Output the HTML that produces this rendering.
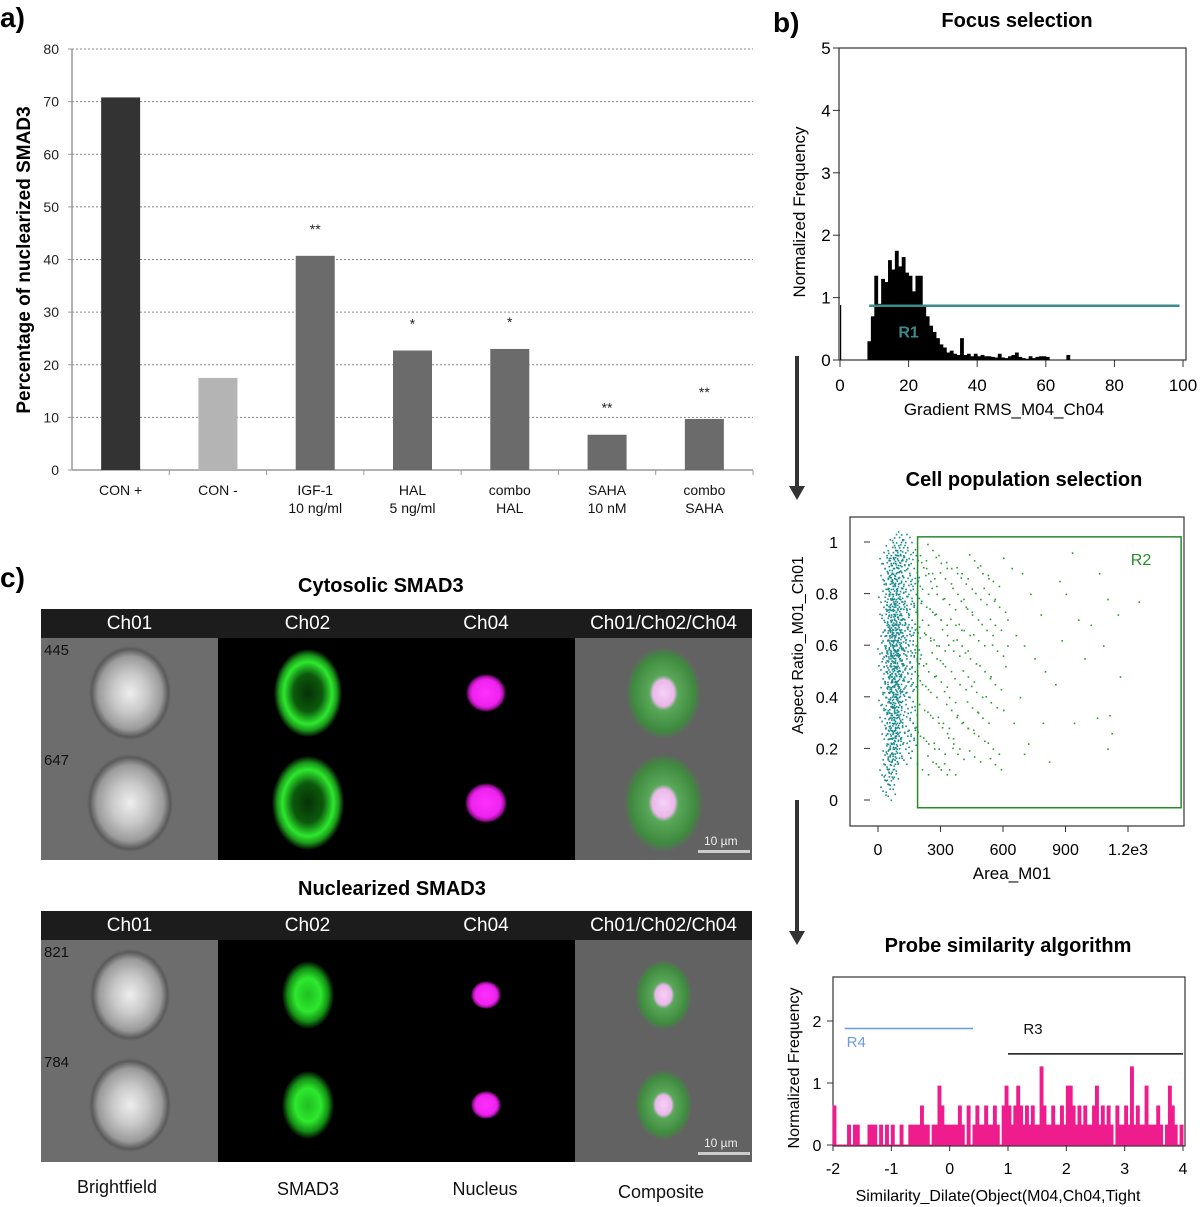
<!DOCTYPE html>
<html><head><meta charset="utf-8">
<style>
body{margin:0;background:#fff;width:1200px;height:1207px;overflow:hidden;position:relative;font-family:"Liberation Sans",Arial,sans-serif}
.abs{position:absolute}
.hdr{position:absolute;background:#1c1c1c;color:#fff;font-size:19px;text-align:center;line-height:29px;height:29px}
.cell{position:absolute;border-radius:50%}
.lbl{position:absolute;font-size:15px;color:#111}
.cap{position:absolute;font-size:18px;color:#111;text-align:center;width:178px}
</style></head>
<body>
<svg class="abs" style="left:0;top:0" width="1200" height="1207" id="svg" font-family="Liberation Sans, Arial, sans-serif"></svg>

<!-- panel c -->
<div class="abs" style="left:0px;top:562px;font-size:28px;font-weight:bold">c)</div>
<div class="abs" style="left:298px;top:575px;font-size:20px;font-weight:bold">Cytosolic SMAD3</div>
<div class="abs" style="left:298px;top:878px;font-size:20px;font-weight:bold">Nuclearized SMAD3</div>

<div id="imgs"></div>

<div class="cap" style="left:28px;top:1177px">Brightfield</div>
<div class="cap" style="left:219px;top:1179px">SMAD3</div>
<div class="cap" style="left:396px;top:1179px">Nucleus</div>
<div class="cap" style="left:572px;top:1182px">Composite</div>

<script>
const NS='http://www.w3.org/2000/svg';
const svg=document.getElementById('svg');
function mk(tag,attrs,parent){const e=document.createElementNS(NS,tag);for(const k in attrs)e.setAttribute(k,attrs[k]);(parent||svg).appendChild(e);return e;}
function txt(x,y,s,attrs){const e=mk('text',Object.assign({x:x,y:y},attrs||{}));e.textContent=s;return e;}

/* ---------- Panel a data ---------- */
const barCategories=[["CON +"],["CON -"],["IGF-1","10 ng/ml"],["HAL","5 ng/ml"],["combo","HAL"],["SAHA","10 nM"],["combo","SAHA"]];
const barValues=[70.8,17.5,40.7,22.7,23.0,6.7,9.7];
const barSignif=["","","**","*","*","**","**"];
const barColors=["#333333","#b4b4b4","#6b6b6b","#6b6b6b","#6b6b6b","#6b6b6b","#6b6b6b"];
const barTicks=[0,10,20,30,40,50,60,70,80];

/* ---------- Panel b focus histogram (bin width 1, from 0) ---------- */
const focusBins=[0.88,0,0,0,0,0,0,0,0.3,0.7,1.35,0.9,1.3,1.25,1.6,1.45,1.75,1.5,1.65,1.4,1.35,1.1,1.35,1.35,0.85,0.7,0.55,0.45,0.35,0.25,0.2,0.12,0.15,0.1,0.08,0.35,0.08,0.1,0.06,0.1,0.06,0.08,0.06,0.06,0.05,0.04,0.1,0.04,0.03,0.06,0.08,0.12,0.05,0.03,0.02,0.06,0.03,0.05,0.06,0.06,0.05,0,0,0,0,0,0.08];
const focusTicksX=[0,20,40,60,80,100];
const focusTicksY=[0,1,2,3,4,5];
const r1Level=0.87, r1From=8.5, r1To=99;

/* ---------- Scatter ---------- */
const cyanPts=[[60,.95],[75,.9],[90,.97],[45,.88],[110,.93],[130,.85],[70,.82],[85,.78],[55,.75],[100,.8],[65,.7],[80,.72],[120,.76],[40,.68],[95,.65],[70,.62],[58,.6],[88,.58],[105,.6],[150,.62],[75,.55],[62,.52],[92,.5],[115,.53],[50,.48],[80,.45],[68,.42],[100,.44],[140,.46],[35,.4],[72,.38],[90,.35],[60,.33],[110,.36],[78,.3],[55,.28],[95,.26],[65,.22],[75,.2],[70,.18],[60,.15],[80,.25],[45,.12],[30,.08],[55,.06],[25,.35],[20,.55],[25,.75],[170,.9],[160,.7],[175,.5],[165,.3],[150,.4],[135,.55],[125,.68],[145,.8],[85,.88],[65,.85],[95,.84],[50,.8],[105,.72],[82,.66],[66,.65],[52,.62],[118,.64],[76,.6],[98,.56],[58,.55],[84,.52],[70,.5],[108,.48],[62,.46],[90,.42],[52,.38],[82,.34],[66,.3],[100,.3],[58,.24],[88,.2],[70,.12],[40,.22],[130,.2],[155,.25],[180,.6],[180,.8],[35,.6],[40,.5],[30,.9],[120,.95],[140,.97],[100,.98],[75,.68],[68,.78],[92,.74],[78,.46],[88,.62],[62,.72],[72,.92],[86,.4],[96,.9]];
const greenPts=[[200,.95],[230,.9],[260,.97],[300,.92],[250,.85],[210,.82],[280,.8],[320,.86],[350,.9],[400,.88],[230,.75],[270,.72],[210,.7],[300,.7],[340,.76],[380,.8],[420,.84],[460,.93],[500,.88],[550,.85],[220,.65],[250,.62],[290,.6],[330,.64],[370,.68],[410,.66],[450,.72],[490,.78],[530,.8],[580,.75],[200,.55],[240,.5],[280,.55],[320,.52],[360,.58],[400,.6],[440,.55],[480,.62],[520,.66],[570,.58],[620,.7],[660,.64],[210,.45],[250,.42],[300,.46],[340,.4],[390,.45],[430,.48],[470,.42],[510,.5],[560,.45],[610,.52],[700,.6],[750,.55],[220,.35],[260,.32],[310,.3],[350,.35],[400,.3],[450,.36],[500,.32],[540,.38],[600,.35],[680,.4],[800,.5],[200,.25],[240,.22],[290,.2],[330,.26],[380,.18],[430,.28],[480,.25],[550,.2],[650,.3],[720,.22],[820,.15],[210,.12],[260,.15],[340,.12],[460,.17],[560,.14],[700,.18],[790,.3],[850,.45],[880,.62],[900,.8],[930,.96],[960,.7],[990,.55],[1020,.68],[1060,.88],[1080,.6],[1100,.78],[1150,.72],[1160,.48],[1110,.33],[1120,.26],[1100,.2],[1050,.32],[940,.3],[1250,.77],[870,.85],[780,.72],[640,.9],[600,.94],[730,.8],[690,.88],[560,.68],[620,.6],[420,.75],[240,.88],[360,.22],[300,.12]];
const scatterTicksX=[0,300,600,900,1200];
const scatterTickLabelsX=["0","300","600","900","1.2e3"];
const scatterTicksY=[0,0.2,0.4,0.6,0.8,1];
const r2Box=[190,1455,-0.03,1.02];

/* ---------- Probe histogram (bin width 0.05 from -2) ---------- */
const probeBins=[.63,0,0,0,0,.32,0,.32,.32,0,0,0,.32,.32,.32,0,.32,0,.32,0,
.32,0,0,.32,0,0,.32,.32,.32,.32,.63,.32,.32,0,.32,.32,.95,.63,.32,.32,
.32,.32,.32,.63,.32,0,.63,0,.32,.63,.32,.32,.63,.32,.32,.63,.32,0,.63,.95,
.63,.32,.63,.95,.63,.32,.63,.32,.63,.32,.32,1.26,.63,.32,.32,.63,.32,.32,.63,.32,
.95,.95,.63,.32,.63,.32,.63,.32,.32,.63,.95,.32,.63,.32,.63,.32,0,.63,.32,.32,
.63,.32,1.26,.32,.63,.32,.32,.95,.32,.32,.32,.63,.32,0,.32,.95,.63,.32,0,.32];
const probeTicksX=[-2,-1,0,1,2,3,4];
const probeTicksY=[0,1,2];
const r4=[-1.8,0.4,1.88], r3=[1.0,4.0,1.47];

/* ===== Panel a ===== */
{
const x0=72,x1=753,yb=470,yt=49;
const ys=v=>yb-(v/80)*(yb-yt);
const step=(x1-x0)/barCategories.length;
const g=mk('g',{});


const lbl=txt(0,27,'a)',{'font-size':28,'font-weight':'bold'});


barTicks.forEach(t=>{
  if(t>0){const l=mk('line',{x1:x0,x2:x1,y1:ys(t),y2:ys(t),stroke:'#888','stroke-dasharray':'2,2','stroke-width':1},g);
  
  }
  mk('line',{x1:x0-4,x2:x0,y1:ys(t),y2:ys(t),stroke:'#999'},g);
  const tt=txt(59,ys(t)+5,String(t),{'font-size':14,'text-anchor':'end',fill:'#222'});
  
  
});
mk('line',{x1:x0,x2:x0,y1:yt,y2:yb,stroke:'#999','stroke-width':1.5},g);
mk('line',{x1:x0,x2:x1,y1:yb,y2:yb,stroke:'#999','stroke-width':1.5},g);
barCategories.forEach((c,i)=>{
  const cx=x0+step*(i+0.5);
  mk('line',{x1:x0+step*(i+1),x2:x0+step*(i+1),y1:yb,y2:yb+5,stroke:'#999'},g);
  const b=mk('rect',{x:cx-19.5,y:ys(barValues[i]),width:39,height:yb-ys(barValues[i]),fill:barColors[i]},g);
  
  
  c.forEach((line,j)=>{const t=txt(cx,495+j*18,line,{'font-size':14,'text-anchor':'middle',fill:'#111'});
    
    });
  if(barSignif[i]){const s=txt(cx,ys(barValues[i])-22,barSignif[i],{'font-size':14,'text-anchor':'middle',fill:'#222'});
    
    }
});
const yt2=txt(0,0,'Percentage of nuclearized SMAD3',{'font-size':19,'font-weight':'bold','text-anchor':'middle',transform:'translate(30,260) rotate(-90)'});


}

/* ===== Panel b focus ===== */
{
const X0=840,X1=1183,Y0=360,Y1=48;
const xs=v=>X0+v/100*(X1-X0), ys=v=>Y0-v/5*(Y0-Y1);
const lb=txt(773,32,'b)',{'font-size':28,'font-weight':'bold'});


const ti=txt(1017,27,'Focus selection',{'font-size':20,'font-weight':'bold','text-anchor':'middle'});


const fr=mk('rect',{x:X0-1,y:Y1,width:X1-X0+4,height:Y0-Y1,fill:'none',stroke:'#333','stroke-width':1.2});


focusBins.forEach((v,i)=>{ if(v<=0)return;
  const w=i===0?1.2:(xs(1)-xs(0))+0.4;
  const r=mk('rect',{x:xs(i),y:ys(v),width:w,height:Y0-ys(v),fill:'#000'});
  
  
});
focusTicksY.forEach(t=>{mk('line',{x1:X0-7,x2:X0,y1:ys(t),y2:ys(t),stroke:'#333'});
  const tt=txt(826,ys(t)+6,String(t),{'font-size':17,'text-anchor':'middle'});
  
  });
focusTicksX.forEach(t=>{mk('line',{x1:xs(t),x2:xs(t),y1:Y0,y2:Y0+7,stroke:'#333'});
  const tt=txt(xs(t),Y0+31,String(t),{'font-size':17,'text-anchor':'middle'});
  
  });
const r1=mk('line',{x1:xs(r1From),x2:xs(r1To),y1:ys(r1Level),y2:ys(r1Level),stroke:'#3d8a8a','stroke-width':2.5});


const r1t=txt(xs(20),ys(0.36),'R1',{'font-size':16,'font-weight':'bold',fill:'#3d8a8a','text-anchor':'middle'});


const xa=txt(1004,415,'Gradient RMS_M04_Ch04',{'font-size':17,'text-anchor':'middle'});


const ya=txt(0,0,'Normalized Frequency',{'font-size':17,'text-anchor':'middle',transform:'translate(805,212) rotate(-90)'});


}

/* arrows */
[[797,356,500],[797,800,945]].forEach(a=>{
  const g=mk('g',{});
  
  
  mk('line',{x1:a[0],x2:a[0],y1:a[1],y2:a[2]-12,stroke:'#333','stroke-width':4},g);
  mk('polygon',{points:`${a[0]-8},${a[2]-14} ${a[0]+8},${a[2]-14} ${a[0]},${a[2]}`,fill:'#333'},g);
});

/* ===== Scatter ===== */
{
const X0=878,X1=1128,Y0=800,Y1=542;
const xs=v=>X0+v/1200*(X1-X0), ys=v=>Y0-v*(Y0-Y1);
const ti=txt(1024,486,'Cell population selection',{'font-size':20,'font-weight':'bold','text-anchor':'middle'});


const fr=mk('rect',{x:850,y:517,width:334,height:309,fill:'none',stroke:'#333','stroke-width':1.2});


const offs=[[0,0],[3,4],[-3,-5],[4,-8],[-4,7],[2,-13],[-2,11],[5,9],[-5,-10],[1,15],[-1,-16]];
const offsG=[[0,0],[6,5],[-5,-6]];
cyanPts.forEach(p=>{offs.forEach(o=>{
  const c=mk('rect',{x:xs(p[0])+o[0],y:ys(p[1])+o[1],width:1.6,height:1.6,fill:'#1a8a8e'});
  
  });});
greenPts.forEach(p=>{(p[0]<600?offsG:[[0,0]]).forEach(o=>{
  const c=mk('rect',{x:xs(p[0])+o[0],y:ys(p[1])+o[1],width:1.6,height:1.6,fill:'#2a9a2a'});
  
  });});
const r2=mk('rect',{x:xs(r2Box[0]),y:ys(r2Box[3]),width:xs(r2Box[1])-xs(r2Box[0]),height:ys(r2Box[2])-ys(r2Box[3]),fill:'none',stroke:'#2a8a2a','stroke-width':1.5});


const r2t=txt(1141,565,'R2',{'font-size':16,fill:'#2a8a2a','text-anchor':'middle'});


scatterTicksY.forEach(t=>{mk('line',{x1:X0-14,x2:X0-8,y1:ys(t),y2:ys(t),stroke:'#333'});
  const tt=txt(838,ys(t)+6,String(t),{'font-size':16,'text-anchor':'end'});
  
  });
scatterTicksX.forEach((t,i)=>{mk('line',{x1:xs(t),x2:xs(t),y1:826,y2:832,stroke:'#333'});
  const tt=txt(xs(t),855,scatterTickLabelsX[i],{'font-size':16,'text-anchor':'middle'});
  
  });
const xa=txt(1012,879,'Area_M01',{'font-size':17,'text-anchor':'middle'});


const ya=txt(0,0,'Aspect Ratio_M01_Ch01',{'font-size':16,'text-anchor':'middle',transform:'translate(803,645) rotate(-90)'});


}

/* ===== Probe histogram ===== */
{
const X0=833,X1=1183,Y0=1145,Y1=977;
const xs=v=>X0+(v+2)/6*(X1-X0), ys=v=>Y0-v*62;
const ti=txt(1008,952,'Probe similarity algorithm',{'font-size':20,'font-weight':'bold','text-anchor':'middle'});


const fr=mk('rect',{x:X0,y:Y1,width:X1-X0+2,height:Y0-Y1+1,fill:'none',stroke:'#333','stroke-width':1.2});


const bw=0.05;
let d=`M${X0},${Y0}`;
probeBins.forEach((v,i)=>{const a=xs(-2+i*bw),b=xs(-2+(i+1)*bw);d+=` L${a},${ys(v)} L${b},${ys(v)}`;});
d+=` L${X1},${Y0} Z`;
const h=mk('path',{d:d,fill:'#ee1c8c',stroke:'#ee1c8c','stroke-width':1});


probeTicksY.forEach(t=>{mk('line',{x1:X0-6,x2:X0,y1:ys(t),y2:ys(t),stroke:'#333'});
  const tt=txt(817,ys(t)+6,String(t),{'font-size':16,'text-anchor':'middle'});
  
  });
probeTicksX.forEach(t=>{mk('line',{x1:xs(t),x2:xs(t),y1:Y0,y2:Y0+6,stroke:'#333'});
  const tt=txt(xs(t),Y0+29,String(t),{'font-size':16,'text-anchor':'middle'});
  
  });
const l4=mk('line',{x1:xs(r4[0]),x2:xs(r4[1]),y1:ys(r4[2]),y2:ys(r4[2]),stroke:'#6b9be0','stroke-width':1.5});


const t4=txt(xs(r4[0])+2,1047,'R4',{'font-size':15,fill:'#6b9be0'});


const l3=mk('line',{x1:xs(r3[0]),x2:xs(r3[1]),y1:ys(r3[2]),y2:ys(r3[2]),stroke:'#111','stroke-width':1.5});


const t3=txt(1033,1034,'R3',{'font-size':15,fill:'#111','text-anchor':'middle'});


const xa=txt(998,1201,'Similarity_Dilate(Object(M04,Ch04,Tight',{'font-size':16,'text-anchor':'middle'});


const ya=txt(0,0,'Normalized Frequency',{'font-size':16,'text-anchor':'middle',transform:'translate(799,1068) rotate(-90)'});


}

/* ===== Panel c image strips ===== */
const cont=document.getElementById('imgs');
const colX=[41,218,397,575,752];
const colBg=['#6d6d6d','#000','#000','#626262'];
const chNames=['Ch01','Ch02','Ch04','Ch01/Ch02/Ch04'];
function panel(top,ids,cells){
  const p=document.createElement('div');
  p.className='abs';
  p.style.cssText=`left:41px;top:${top}px;width:711px;height:251px;overflow:hidden;`;
  
  
  cont.appendChild(p);
  for(let c=0;c<4;c++){
    const col=document.createElement('div');
    col.className='abs';
    col.style.cssText=`left:${colX[c]-41}px;top:29px;width:${colX[c+1]-colX[c]}px;height:222px;background:${colBg[c]}`;
    
    
    p.appendChild(col);
    const h=document.createElement('div');
    h.className='hdr';
    h.style.cssText+=`left:${colX[c]-41}px;top:0;width:${colX[c+1]-colX[c]}px`;
    h.textContent=chNames[c];
    
    
    p.appendChild(h);
    for(let r=0;r<2;r++){
      const cy=29+55+r*110, cx=(colX[c]-41)+(colX[c+1]-colX[c])/2;
      const s=cells[r];
      const e=document.createElement('div');
      e.className='cell';
      let w,hh,bg;
      if(c===0){w=s.bf;hh=s.bf*1.15;bg='radial-gradient(ellipse,#eeeeee 0%,#c8c8c8 30%,#9a9a9a 55%,#5a5a5a 66%,rgba(109,109,109,0) 71%)';}
      else if(c===1){w=s.g;hh=s.g*1.3;bg=s.ring?'radial-gradient(ellipse,#063006 0%,#0c5a0c 30%,#2ee82e 50%,#1c9c1c 60%,rgba(0,0,0,0) 71%)':'radial-gradient(ellipse,#1fbf1f 0%,#2ee82e 35%,#159015 55%,rgba(0,0,0,0) 71%)';}
      else if(c===2){w=s.n;hh=s.n*0.95;bg='radial-gradient(ellipse,#ff30ff 0%,#ee22ee 50%,#991199 62%,rgba(0,0,0,0) 71%)';}
      else {w=s.g*1.1;hh=s.g*1.35;bg=`radial-gradient(ellipse,#f6d0f6 0%,#eab8ea ${Math.round(s.n/s.g*34)}%,#5aa85a ${Math.round(s.n/s.g*46)}%,#3f8a3f 58%,rgba(98,98,98,0) 71%)`;}
      e.style.cssText=`left:${cx-w/2}px;top:${cy-hh/2}px;width:${w}px;height:${hh}px;background:${bg}`;
      
      
      p.appendChild(e);
    }
  }
  ids.forEach((id,r)=>{
    const l=document.createElement('div');
    l.className='lbl';
    l.style.cssText=`left:3px;top:${33+r*110}px`;
    l.textContent=id;
    
    
    p.appendChild(l);
  });
  const sb=document.createElement('div');
  sb.className='abs';
  sb.style.cssText='left:663px;top:225px;font-size:12px;color:#eee';
  sb.textContent='10 µm';
  
  
  p.appendChild(sb);
  const bar=document.createElement('div');
  bar.className='abs';
  bar.style.cssText='left:657px;top:241px;width:52px;height:3px;background:#ccc';
  
  
  p.appendChild(bar);
}
panel(609,['445','647'],[{bf:82,g:68,n:40,ring:true},{bf:86,g:72,n:42,ring:true}]);
panel(911,['821','784'],[{bf:80,g:52,n:30,ring:false},{bf:82,g:52,n:30,ring:false}]);
</script>
</body></html>
